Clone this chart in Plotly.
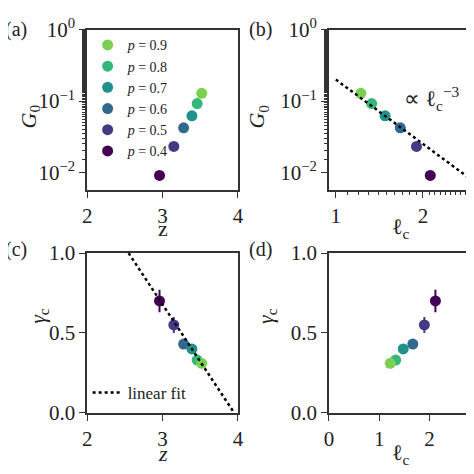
import plotly.graph_objects as go

p_vals = [0.4, 0.5, 0.6, 0.7, 0.8, 0.9]
z_vals = [2.96, 3.15, 3.28, 3.39, 3.46, 3.52]
G0_vals = [0.009, 0.023, 0.042, 0.062, 0.092, 0.128]
G0_err = [0.0012, 0.0015, 0.002, 0.002, 0.003, 0.003]
lc_vals = [2.12, 1.90, 1.67, 1.48, 1.33, 1.22]
gamma_vals = [0.70, 0.55, 0.43, 0.40, 0.33, 0.31]
gamma_err = [0.07, 0.05, 0.015, 0.015, 0.015, 0.015]
colors = ["#440154", "#443a83", "#31688e", "#21918c", "#35b779", "#7ad151"]
pow_lc = [1.0, 3.0]
pow_G = [0.2, 0.2 / 27]
fit_z = [2.55, 3.95]
fit_gamma = [1.0, 0.0]

FONT = "Liberation Serif"
fig = go.Figure()
for i in range(6):
    mk = dict(color=colors[i], size=11)
    fig.add_trace(go.Scatter(x=[z_vals[i]], y=[G0_vals[i]], mode="markers", marker=mk,
        error_y=dict(array=[G0_err[i]], color=colors[i], thickness=2, width=0),
        name=f"<i>p</i> = {p_vals[i]}", legend="legend", xaxis="x", yaxis="y"))
    fig.add_trace(go.Scatter(x=[lc_vals[i]], y=[G0_vals[i]], mode="markers", marker=mk,
        error_y=dict(array=[G0_err[i]], color=colors[i], thickness=2, width=0),
        showlegend=False, xaxis="x2", yaxis="y2"))
    fig.add_trace(go.Scatter(x=[z_vals[i]], y=[gamma_vals[i]], mode="markers", marker=mk,
        error_y=dict(array=[gamma_err[i]], color=colors[i], thickness=2, width=0),
        showlegend=False, xaxis="x3", yaxis="y3"))
    fig.add_trace(go.Scatter(x=[lc_vals[i]], y=[gamma_vals[i]], mode="markers", marker=mk,
        error_y=dict(array=[gamma_err[i]], color=colors[i], thickness=2, width=0),
        showlegend=False, xaxis="x4", yaxis="y4"))

fig.add_trace(go.Scatter(x=pow_lc, y=pow_G, mode="lines", line=dict(color="black", dash="dot", width=2.5),
    showlegend=False, xaxis="x2", yaxis="y2"))
fig.add_trace(go.Scatter(x=fit_z, y=fit_gamma, mode="lines", line=dict(color="black", dash="dot", width=2.5),
    name="linear fit", legend="legend2", xaxis="x3", yaxis="y3"))

ax = dict(showline=True, linecolor="#333", linewidth=1.5, mirror=True, ticks="outside", ticklen=6,
          tickcolor="#333", showgrid=False, zeroline=False, automargin=False,
          tickfont=dict(size=21, family=FONT, color="#222"))
dec = dict(tickvals=[1e-2, 1e-1, 1], ticktext=["10<sup>−2</sup>", "10<sup>−1</sup>", "10<sup>0</sup>"],
           minor=dict(ticks="outside", ticklen=3, tickcolor="#333", showgrid=False))
xa = [0.167, 0.485]; xb = [0.677, 0.995]
ya = [0.616, 0.954]; yc = [0.146, 0.483]
fig.update_layout(
    width=474, height=474, margin=dict(l=0, r=0, t=0, b=0), plot_bgcolor="white", paper_bgcolor="white",
    font=dict(family=FONT, color="#222"),
    xaxis=dict(ax, domain=xa, anchor="y", range=[2, 4], tickvals=[2, 3, 4]),
    yaxis=dict(ax, **dec, domain=ya, anchor="x", type="log", range=[-2.25, 0]),
    xaxis2=dict(ax, domain=xb, anchor="y2", type="log", range=[-0.024, 0.497], tickvals=[1, 2, 3],
                minor=dict(ticks="outside", ticklen=3, tickcolor="#333", showgrid=False)),
    yaxis2=dict(ax, **dec, domain=ya, anchor="x2", type="log", range=[-2.25, 0]),
    xaxis3=dict(ax, domain=xa, anchor="y3", range=[2, 4], tickvals=[2, 3, 4]),
    yaxis3=dict(ax, domain=yc, anchor="x3", range=[0, 1], tickvals=[0, 0.5, 1], ticktext=["0.0", "0.5", "1.0"]),
    xaxis4=dict(ax, domain=xb, anchor="y4", range=[0, 3], tickvals=[0, 1, 2, 3]),
    yaxis4=dict(ax, domain=yc, anchor="x4", range=[0, 1], tickvals=[0, 0.5, 1], ticktext=["0.0", "0.5", "1.0"]),
    legend=dict(x=0.168, y=0.955, xanchor="left", yanchor="top", traceorder="reversed", bgcolor="rgba(0,0,0,0)",
                font=dict(size=14, family=FONT), itemwidth=30, tracegroupgap=0, borderwidth=0),
    legend2=dict(x=0.168, y=0.15, xanchor="left", yanchor="bottom", bgcolor="rgba(0,0,0,0)",
                 font=dict(size=17, family=FONT), itemwidth=30),
)
ann = [
    ("(a)", -0.01, 0.955, 20), ("(b)", 0.505, 0.955, 20), ("(c)", -0.01, 0.49, 20), ("(d)", 0.505, 0.49, 20),
    ("z", 0.326, 0.535, 22), ("ℓ<sub>c</sub>", 0.83, 0.535, 22), ("<i>z</i>", 0.326, 0.06, 22),
    ("ℓ<sub>c</sub>", 0.83, 0.06, 22), ("∝ ℓ<sub>c</sub><sup>−3</sup>", 0.895, 0.81, 22),
]
for t, x, y, s in ann:
    fig.add_annotation(text=t, x=x, y=y, xref="paper", yref="paper", showarrow=False,
                       xanchor="left" if t.startswith("(") else "center", yanchor="middle",
                       font=dict(size=s, family=FONT, color="#222"))
for t, x, y in [("<i>G</i><sub>0</sub>", 0.012, 0.80), ("<i>G</i><sub>0</sub>", 0.527, 0.80),
                ("<i>γ</i><sub>c</sub>", 0.03, 0.33), ("<i>γ</i><sub>c</sub>", 0.545, 0.33)]:
    fig.add_annotation(text=t, x=x, y=y, xref="paper", yref="paper", showarrow=False, textangle=-90,
                       font=dict(size=22, family=FONT, color="#222"))
fig.write_html("out.html")
